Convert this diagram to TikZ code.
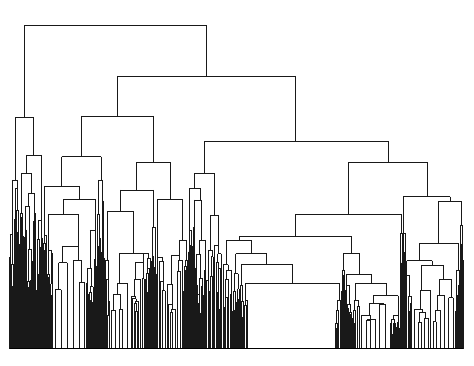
\documentclass[tikz,border=0pt]{standalone}
\usepackage{tikz}

\newcommand\dendbot{348.5}
\newcommand\leafw{0.9}
\newcommand\dbar[5]{\draw (#1,#2) -- (#1,#3) (#4,#3) -- (#5,#3);}
\newcommand\dtree[5]{%
  \begingroup
  \pgfmathsetmacro\dw{#2-#1}%
  \ifdim\dw pt<\leafw pt\relax
    \draw (#3,#4) -- (#3,\dendbot);%
  \else
    \pgfmathsetmacro\ds{#1+\dw*(0.15+0.7*rnd)}%
    \pgfmathsetmacro\ds{max(min(\ds,2*#3-#1),2*#3-#2)}%
    \pgfmathsetmacro\dxl{(#1+\ds)/2}%
    \pgfmathsetmacro\dxr{(\ds+#2)/2}%
    \pgfmathsetmacro\dhl{#5+(\dendbot-#5)*(0.03+0.32*rnd)}%
    \pgfmathsetmacro\dhr{#5+(\dendbot-#5)*(0.03+0.32*rnd)}%
    \draw (#3,#4) -- (#3,#5) (\dxl,#5) -- (\dxr,#5);%
    \edef\dnext{\noexpand\dtree{#1}{\ds}{\dxl}{#5}{\dhl}\noexpand\dtree{\ds}{#2}{\dxr}{#5}{\dhr}}%
    \dnext
  \fi
  \endgroup}

\begin{document}
\begin{tikzpicture}[x=1pt,y=-1pt,line width=0.5pt,color=black!90]
\useasboundingbox (0,0) rectangle (474,366);
\pgfmathsetseed{5}

\draw (24,25.7) -- (206.7,25.7);
\dbar{24}{25.7}{117.3}{15}{33.7}
\dbar{33.7}{117.3}{155}{26}{41}
\dbar{26}{155}{173.3}{21}{31.7}
\dbar{206.7}{25.7}{76}{117.3}{295.7}
\dbar{117.3}{76}{116}{81.7}{153.3}
\dbar{81.7}{116}{156.7}{61.7}{101.3}
\dbar{61.7}{156.7}{186}{44.3}{79.3}
\dbar{79.3}{186}{199.3}{63.3}{95}
\dbar{63.3}{199.3}{214.3}{48.7}{78.3}
\dbar{153.3}{116}{162.3}{136.7}{170.3}
\dbar{136.7}{162.3}{190}{120.3}{153}
\dbar{120.3}{190}{211.7}{107.3}{133.7}
\dbar{133.7}{211.7}{253.3}{119.3}{148}
\dbar{170.3}{162.3}{199.3}{157.3}{182.7}
\dbar{182.7}{199.3}{240}{179.3}{186}
\dbar{295.7}{76}{141.3}{204}{388.3}
\dbar{204}{141.3}{173.3}{194.7}{214}
\dbar{194.7}{173.3}{188.3}{189}{200}
\dbar{214}{173.3}{215}{210}{218.7}
\dbar{388.3}{141.3}{162.3}{348.3}{427}
\dbar{348.3}{162.3}{214.3}{295}{401.7}
\dbar{295}{214.3}{236.3}{239.3}{351.3}
\dbar{239.3}{236.3}{240.3}{226.7}{251}
\dbar{251}{240.3}{253.7}{235.7}{266.7}
\dbar{266.7}{253.7}{264.7}{241}{292.7}
\dbar{292.7}{264.7}{283}{245.7}{339}
\dbar{351.3}{236.3}{253.3}{343.3}{359.3}
\dbar{359.3}{253.3}{274}{346.7}{371.7}
\dbar{371.7}{274}{283.3}{355.7}{386.7}
\dbar{386.7}{283.3}{295.7}{373.3}{398.3}
\dbar{427}{162.3}{196.7}{403.3}{450}
\dbar{450}{196.7}{201.7}{438.3}{461.7}
\dbar{438.3}{201.7}{243.3}{419.3}{458.3}
\dbar{419.3}{243.3}{260.7}{406.7}{432.3}
\dbar{432.3}{260.7}{265}{421.7}{443.3}

\dtree{9.5}{19.5}{15}{117.3}{180}
\dtree{19.5}{24}{21}{173.3}{213}
\dtree{24}{36}{31.7}{173.3}{193}
\dtree{36}{43}{41}{155}{220}
\dtree{43}{47}{44.3}{186}{235}
\dtree{47}{53}{48.7}{214.3}{250}
\renewcommand\leafw{7}
\dtree{53}{86}{78.3}{214.3}{246}
\renewcommand\leafw{1.6}
\dtree{86}{96.5}{95}{199.3}{230}
\renewcommand\leafw{0.9}
\dtree{96.5}{104}{101.3}{156.7}{180}
\renewcommand\leafw{2}
\dtree{104}{110}{107.3}{211.7}{260}
\renewcommand\leafw{6}
\dtree{110}{130}{119.3}{253.3}{283}
\renewcommand\leafw{2.6}
\dtree{130}{145}{143}{253.3}{262}
\renewcommand\leafw{0.9}
\dtree{145}{151}{148}{253.3}{258}
\dtree{151}{156}{153}{190}{227}
\renewcommand\leafw{2.5}
\dtree{156}{166}{157.3}{199.3}{257}
\renewcommand\leafw{4}
\dtree{166}{183}{179.3}{240}{255}
\renewcommand\leafw{0.9}
\dtree{183}{188}{186}{240}{260}
\dtree{188}{192}{189}{188.3}{230}
\dtree{192}{206}{200}{188.3}{200}
\renewcommand\leafw{2}
\dtree{206}{214}{210}{215}{250}
\dtree{214}{222}{218.7}{215}{245}
\dtree{222}{232}{226.7}{240.3}{264.7}
\renewcommand\leafw{0.9}
\dtree{232}{239}{235.7}{253.7}{273.7}
\renewcommand\leafw{2}
\dtree{239}{244}{241}{264.7}{285}
\dtree{244}{247.5}{245.7}{283}{300}
\dtree{335}{341}{339}{283}{300}
\renewcommand\leafw{0.9}
\dtree{341}{345}{343.3}{253.3}{270}
\dtree{345}{352}{346.7}{274}{285}
\renewcommand\leafw{3}
\dtree{352}{360}{355.7}{283.3}{300}
\renewcommand\leafw{8}
\dtree{360}{388}{373.3}{295.7}{303}
\renewcommand\leafw{1.2}
\dtree{390}{399.8}{398.3}{295.7}{315}
\renewcommand\leafw{0.9}
\dtree{399.8}{402.6}{401.7}{214.3}{233}
\dtree{402.6}{406}{403.3}{196.7}{233}
\renewcommand\leafw{2}
\dtree{406}{412}{406.7}{260.7}{275}
\renewcommand\leafw{5}
\dtree{412}{432}{421.7}{265}{290}
\renewcommand\leafw{6}
\dtree{432}{455}{443.3}{265}{279}
\renewcommand\leafw{0.9}
\dtree{455}{460}{458.3}{243.3}{270}
\dtree{460}{463}{461.7}{201.7}{225}

\draw[line width=0.8pt,black] (9.5,\dendbot) -- (463,\dendbot);
\end{tikzpicture}
\end{document}
